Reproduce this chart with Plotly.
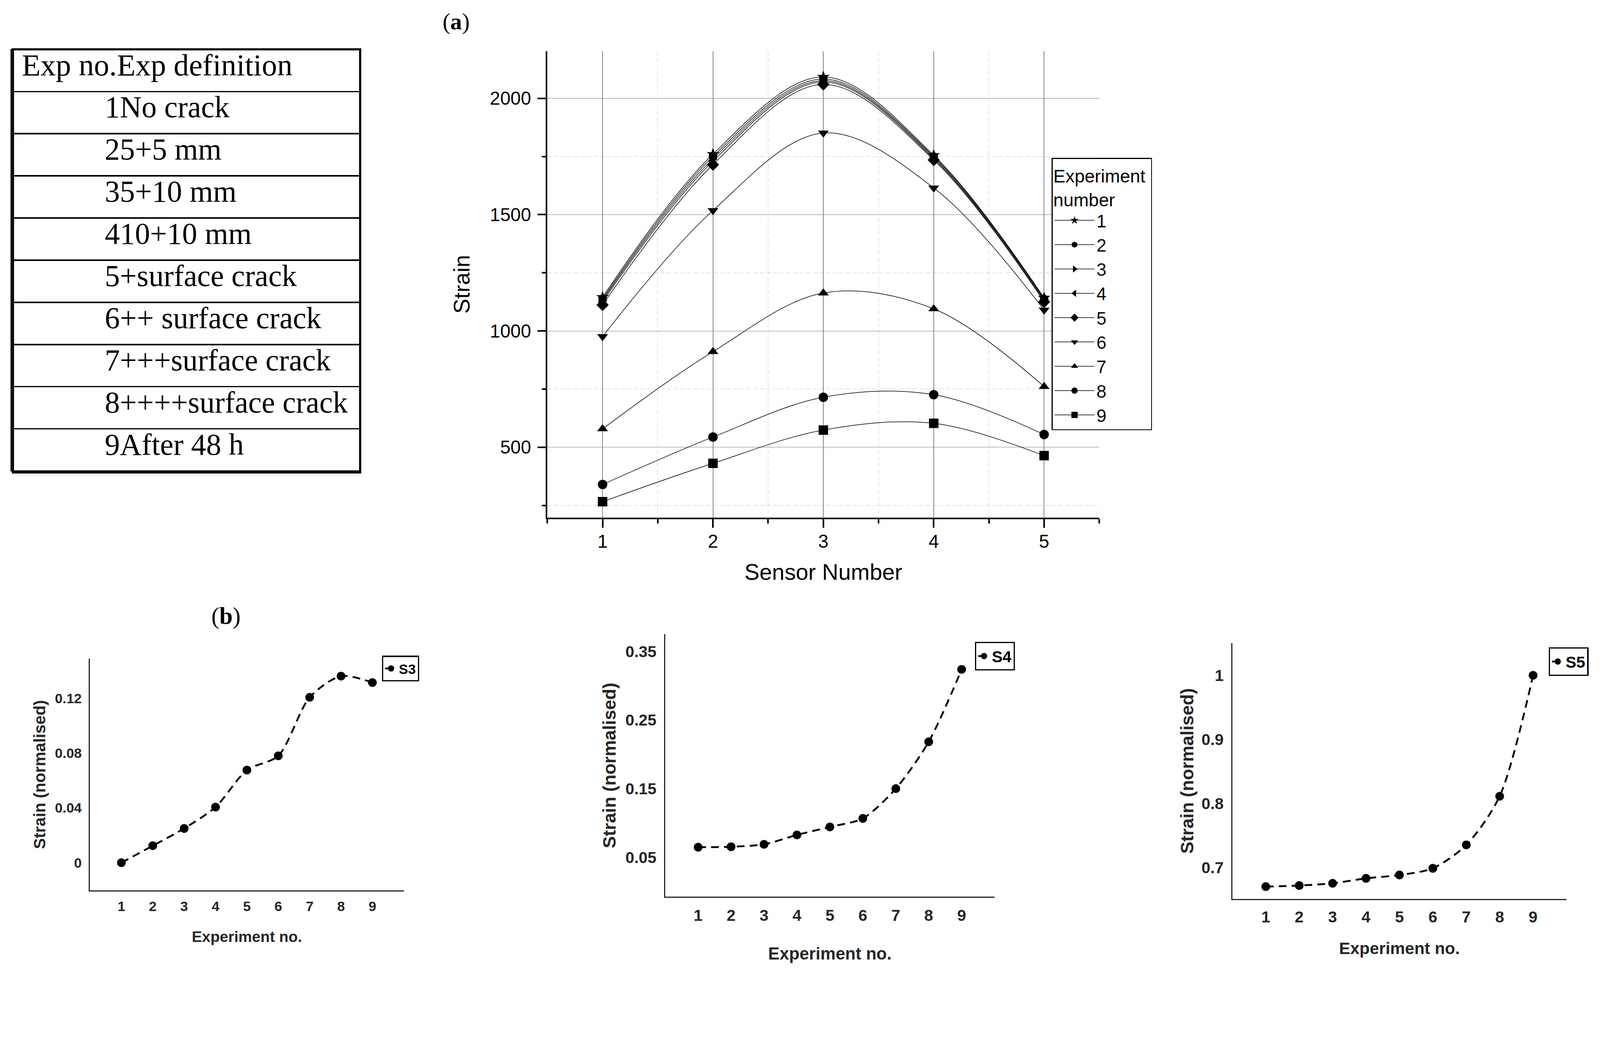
import plotly.graph_objects as go

# Reference picture size and page scale (the photographed page is magnified ~1.0745)
REF_W, REF_H = 4390, 2662
S = 1 / 1.0745
W, H = round(REF_W * S), round(REF_H * S)

# ---------------- data ----------------
exp_numbers = ["1", "2", "3", "4", "5", "6", "7", "8", "9"]
exp_definitions = ["No crack", "5+5 mm", "5+10 mm", "10+10 mm", "+surface crack",
                   "++ surface crack", "+++surface crack", "++++surface crack", "After 48 h"]
table_header = "Exp no.Exp definition"

sensors = [1, 2, 3, 4, 5]
strain_1 = [1145, 1760, 2092, 1755, 1142]
strain_2 = [1138, 1750, 2083, 1750, 1138]
strain_3 = [1132, 1740, 2076, 1745, 1135]
strain_4 = [1125, 1730, 2070, 1740, 1130]
strain_5 = [1112, 1715, 2060, 1735, 1125]
strain_6 = [976, 1518, 1851, 1615, 1090]
strain_7 = [579, 911, 1163, 1095, 761]
strain_8 = [340, 544, 715, 726, 555]
strain_9 = [266, 431, 574, 603, 464]
series_strain = [strain_1, strain_2, strain_3, strain_4, strain_5,
                 strain_6, strain_7, strain_8, strain_9]
symbols = ["star", "hexagon", "triangle-right", "triangle-left", "diamond",
           "triangle-down", "triangle-up", "circle", "square"]

experiments = [1, 2, 3, 4, 5, 6, 7, 8, 9]
s3_norm = [0.0, 0.0124, 0.025, 0.0406, 0.0676, 0.078, 0.1207, 0.1362, 0.1315]
s4_norm = [0.0646, 0.0653, 0.0688, 0.0825, 0.0942, 0.1066, 0.150, 0.2183, 0.3237]
s5_norm = [0.6704, 0.6721, 0.6756, 0.6833, 0.6885, 0.699, 0.7355, 0.8114, 1.0]

s3_ticks = [0, 0.04, 0.08, 0.12]
s3_ticktext = ["0", "0.04", "0.08", "0.12"]
s4_ticks = [0.05, 0.15, 0.25, 0.35]
s4_ticktext = ["0.05", "0.15", "0.25", "0.35"]
s5_ticks = [0.7, 0.8, 0.9, 1.0]
s5_ticktext = ["0.7", "0.8", "0.9", "1"]

# ---------------- helpers ----------------
def px_x(p):
    return p / REF_W

def px_y(p):
    return 1 - p / REF_H

def s(v):
    return v * S

def si(v):
    return int(round(v * S))

SANS = "Liberation Sans, Arial, sans-serif"
SERIF = "Liberation Serif, Times New Roman, serif"
DARK = "#262626"

fig = go.Figure()

# ---------------- table ----------------
NB = "\u00a0"
fig.add_trace(go.Table(
    domain=dict(x=[px_x(22), px_x(982)], y=[px_y(1291), px_y(127)]),
    columnwidth=[1],
    header=dict(values=[NB + table_header], align="left", height=s(116),
                font=dict(family=SERIF, size=s(84), color="black"),
                line=dict(color="black", width=s(3.5)), fill=dict(color="white")),
    cells=dict(values=[[NB * 12 + n + d for n, d in zip(exp_numbers, exp_definitions)]],
               align="left", height=s(116),
               font=dict(family=SERIF, size=s(83), color="black"),
               line=dict(color="black", width=s(3.5)), fill=dict(color="white")),
))

# ---------------- main chart (a) ----------------
for name, ys, sym in zip(exp_numbers, series_strain, symbols):
    fig.add_trace(go.Scatter(
        x=sensors, y=ys, name=name, mode="lines+markers",
        line=dict(color="black", width=s(1.6), shape="spline", smoothing=1),
        marker=dict(symbol=sym, size=s(26), color="black"),
        xaxis="x", yaxis="y", legend="legend",
    ))

# ---------------- (b) charts ----------------
s_specs = [
    ("S3", s3_norm, "x2", "y2", "legend2"),
    ("S4", s4_norm, "x3", "y3", "legend3"),
    ("S5", s5_norm, "x4", "y4", "legend4"),
]
for name, ys, xa, ya, lg in s_specs:
    fig.add_trace(go.Scatter(
        x=experiments, y=ys, name=name, mode="lines+markers",
        line=dict(color="black", width=s(5), dash=f"{s(22):.0f}px,{s(14):.0f}px",
                  shape="spline", smoothing=0.8),
        marker=dict(symbol="circle", size=s(24), color="black"),
        xaxis=xa, yaxis=ya, legend=lg,
    ))

layout = dict(
    width=W, height=H,
    margin=dict(l=0, r=0, t=0, b=0),
    paper_bgcolor="white", plot_bgcolor="white",
    showlegend=True,
)

# main axes
layout["xaxis"] = dict(
    domain=[px_x(1497), px_x(3015)], anchor="y", range=[0.5, 5.5],
    tick0=1, dtick=1, ticks="outside", ticklen=s(24), tickwidth=s(4), tickcolor="black",
    showline=True, linecolor="black", linewidth=s(4.5), mirror=False,
    showgrid=True, gridcolor="#101010", gridwidth=s(1.5), zeroline=False,
    minor=dict(tick0=0.5, dtick=0.5, ticks="outside", ticklen=s(12), tickwidth=s(4), tickcolor="black",
               showgrid=True, gridcolor="#c8c8c8", gridwidth=s(1.4),
               griddash=f"{s(12):.0f}px,{s(6):.0f}px"),
    tickfont=dict(family=SANS, size=s(51), color="black"), ticklabelstandoff=-6,
    title=dict(text="Sensor Number", font=dict(family=SANS, size=s(62), color="black"), standoff=s(36)),
)
layout["yaxis"] = dict(
    domain=[px_y(1415), px_y(132)], anchor="x", range=[198, 2203],
    tick0=0, dtick=500, ticks="outside", ticklen=s(23), tickwidth=s(4), tickcolor="black",
    showline=True, linecolor="black", linewidth=s(4), mirror=False,
    showgrid=True, gridcolor="#808080", gridwidth=s(1.5), zeroline=False,
    minor=dict(tick0=0, dtick=250, ticks="outside", ticklen=s(11), tickwidth=s(4), tickcolor="black",
               showgrid=True, gridcolor="#c8c8c8", gridwidth=s(1.4),
               griddash=f"{s(12):.0f}px,{s(6):.0f}px"),
    tickfont=dict(family=SANS, size=s(51), color="black"), ticklabelstandoff=si(7),
    title=dict(text="Strain", font=dict(family=SANS, size=s(62), color="black"), standoff=s(36)),
)

sub_geo = [
    # xaxis, yaxis, anchors, x-domain px, y-domain px, yrange, ticks, ticktext,
    # tick font, y-title font, x-title font, y-title standoff, x-title standoff, x label standoff
    ("xaxis2", "yaxis2", "x2", "y2", (239, 1102), (2441, 1803), [-0.0203, 0.149], s3_ticks, s3_ticktext, 38, 45, 42, 12, 50, 8),
    ("xaxis3", "yaxis3", "x3", "y3", (1821, 2727), (2458, 1736), [-0.0075, 0.375], s4_ticks, s4_ticktext, 44, 50, 47, 11, 65, 11),
    ("xaxis4", "yaxis4", "x4", "y4", (3381, 4300), (2464, 1760), [0.6513, 1.0505], s5_ticks, s5_ticktext, 44, 50, 46, 6, 47, 9),
]
for xk, yk, xa, ya, xd, yd, yr, tv, tt, tfs, ytfs, xtfs, ysoff, xsoff, xlso in sub_geo:
    layout[xk] = dict(
        domain=[px_x(xd[0]), px_x(xd[1])], anchor=ya, range=[0, 10],
        tickvals=experiments, ticktext=[str(e) for e in experiments],
        ticks="", showline=True, linecolor=DARK, linewidth=s(3.5), showgrid=False, zeroline=False,
        tickfont=dict(family=SANS, size=s(tfs), color=DARK, weight="bold"), ticklabelstandoff=si(xlso),
        title=dict(text="Experiment no.", font=dict(family=SANS, size=s(xtfs), color=DARK, weight="bold"),
                   standoff=s(xsoff)),
    )
    layout[yk] = dict(
        domain=[px_y(yd[0]), px_y(yd[1])], anchor=xa, range=yr,
        tickvals=tv, ticktext=tt,
        ticks="", showline=True, linecolor=DARK, linewidth=s(3.5), showgrid=False, zeroline=False,
        tickfont=dict(family=SANS, size=s(tfs), color=DARK, weight="bold"), ticklabelstandoff=si(12),
        title=dict(text="Strain (normalised)", font=dict(family=SANS, size=s(ytfs), color=DARK, weight="bold"),
                   standoff=s(ysoff)),
    )

# legends
layout["legend"] = dict(
    x=px_x(2884), y=px_y(426), xanchor="left", yanchor="top",
    bgcolor="white", bordercolor="black", borderwidth=s(2.5),
    font=dict(family=SANS, size=s(49), color="black"),
    title=dict(text="Experiment" + NB + "<br>number", font=dict(family=SANS, size=s(50), color="black")),
    itemwidth=s(110), tracegroupgap=0,
)
leg_pos = [("legend2", 1042, 1795, 38), ("legend3", 2673, 1757, 44), ("legend4", 4251, 1772, 44)]
for lk, lx, ly, fs in leg_pos:
    layout[lk] = dict(
        x=px_x(lx), y=px_y(ly), xanchor="left", yanchor="top",
        bgcolor="white", bordercolor="black", borderwidth=s(3.5),
        font=dict(family=SANS, size=s(fs), color="black", weight="bold"),
        itemwidth=30,
    )

layout["shapes"] = [
    dict(type="rect", xref="paper", yref="paper",
         x0=px_x(27), x1=px_x(982), y0=px_y(1291), y1=px_y(127),
         line=dict(color="black", width=s(6)), fillcolor="rgba(0,0,0,0)"),
]
layout["annotations"] = [
    dict(text="(<b>a</b>)", xref="paper", yref="paper", x=px_x(1246), y=px_y(50),
         xanchor="center", yanchor="middle", showarrow=False,
         font=dict(family=SERIF, size=s(64), color="black")),
    dict(text="(<b>b</b>)", xref="paper", yref="paper", x=px_x(613), y=px_y(1686),
         xanchor="center", yanchor="middle", showarrow=False,
         font=dict(family=SERIF, size=s(66), color="black")),
]

fig.update_layout(**layout)
fig.write_html("out.html")
